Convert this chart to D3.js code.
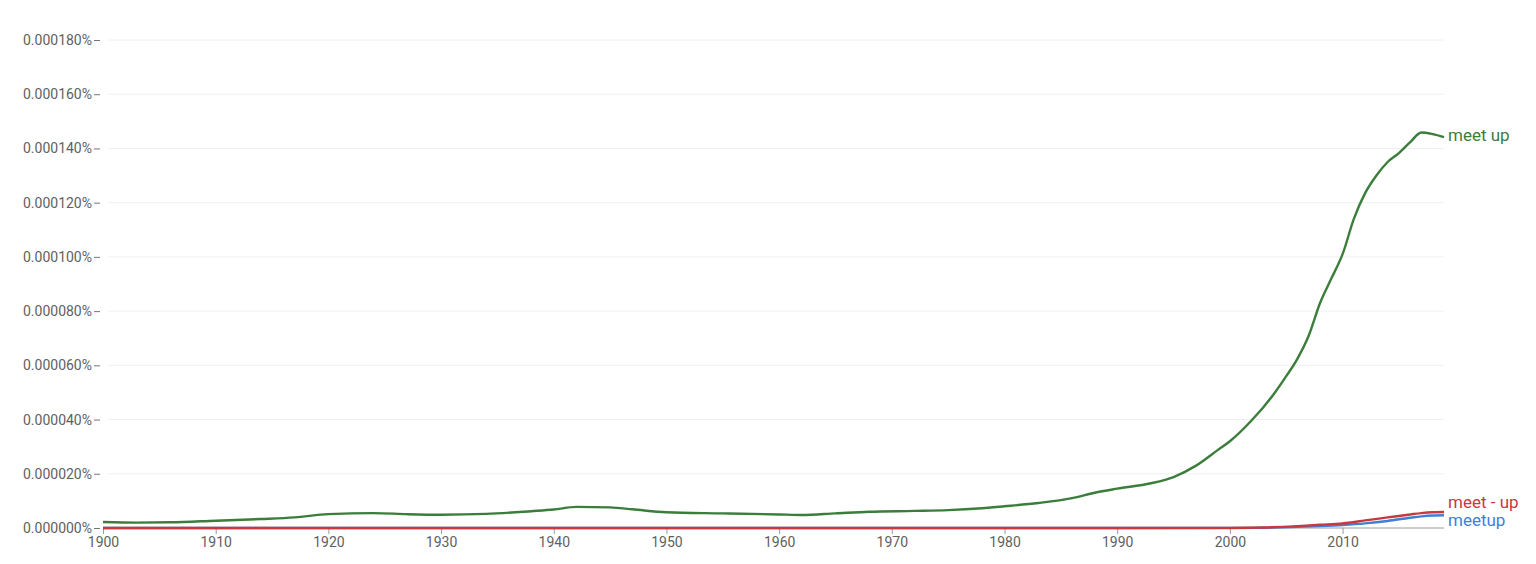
<!DOCTYPE html>
<html>
<head>
<meta charset="utf-8">
<script src="https://cdn.jsdelivr.net/npm/d3@7"></script>
<style>
  html, body { margin: 0; padding: 0; background: #fff; }
  svg { display: block; font-family: Roboto, "Noto Sans", sans-serif; }
</style>
</head>
<body>
<svg id="chart" width="1536" height="564"></svg>
<script>
// ---- data (values in percent) ----
const yearsMeetUp = [1900,1903,1906,1910,1914,1917,1920,1924,1927,1930,1934,1938,1940,1942,1945,1947,1950,1955,1960,1962,1965,1968,1972,1975,1978,1980,1983,1986,1988,1990,1993,1995,1997,1999,2000,2002,2004,2005,2006,2007,2008,2009,2010,2011,2012,2013,2014,2015,2016,2017,2018,2019];
const valuesMeetUp = [2.2e-6,2.0e-6,2.1e-6,2.7e-6,3.3e-6,3.9e-6,5.1e-6,5.5e-6,5.1e-6,4.9e-6,5.2e-6,6.2e-6,6.8e-6,7.8e-6,7.6e-6,6.9e-6,5.8e-6,5.4e-6,5.0e-6,4.8e-6,5.4e-6,6.0e-6,6.3e-6,6.6e-6,7.3e-6,8.0e-6,9.2e-6,11.0e-6,13.0e-6,14.5e-6,16.5e-6,18.8e-6,23.0e-6,29.0e-6,32.0e-6,40.0e-6,50.0e-6,56.0e-6,62.5e-6,71.0e-6,83.0e-6,92.0e-6,101e-6,114e-6,123.5e-6,130e-6,135e-6,138.3e-6,142.3e-6,145.9e-6,145.3e-6,144.2e-6];

const yearsMeetDashUp = [1900,1950,1990,2000,2003,2006,2008,2010,2012,2014,2016,2017,2018,2019];
const valuesMeetDashUp = [0,0,0.02e-6,0.05e-6,0.2e-6,0.7e-6,1.2e-6,1.7e-6,2.8e-6,3.9e-6,5.0e-6,5.5e-6,5.8e-6,5.9e-6];

const yearsMeetup = [1900,1950,1990,2000,2003,2006,2008,2010,2012,2014,2016,2017,2018,2019];
const valuesMeetup = [0,0,0,0.02e-6,0.1e-6,0.4e-6,0.7e-6,1.1e-6,1.7e-6,2.6e-6,3.8e-6,4.3e-6,4.6e-6,4.7e-6];

const seriesNames = ["meet up", "meet - up", "meetup"];
const seriesColors = ["#3b7d3b", "#c8383f", "#427ed6"];

const yTicks = [0, 0.00002, 0.00004, 0.00006, 0.00008, 0.0001, 0.00012, 0.00014, 0.00016, 0.00018];
const yTickLabels = ["0.000000%","0.000020%","0.000040%","0.000060%","0.000080%","0.000100%","0.000120%","0.000140%","0.000160%","0.000180%"];
const xTicks = [1900,1910,1920,1930,1940,1950,1960,1970,1980,1990,2000,2010];

// ---- layout ----
const svg = d3.select("#chart");
const x = d3.scaleLinear().domain([1900, 2019]).range([103, 1444]);
const y = d3.scaleLinear().domain([0, 0.00018]).range([528, 40]);

// grid lines
svg.append("g")
  .selectAll("line")
  .data(yTicks.slice(1))
  .join("line")
  .attr("x1", 108).attr("x2", 1444)
  .attr("y1", d => y(d)).attr("y2", d => y(d))
  .attr("stroke", "#f0f0f0").attr("stroke-width", 1);

// y axis
const yAxis = d3.axisLeft(y)
  .tickValues(yTicks)
  .tickFormat((d, i) => yTickLabels[i])
  .tickSize(6)
  .tickPadding(4);
const gy = svg.append("g").attr("transform", "translate(103,0)").call(yAxis);
gy.select(".domain").remove();
gy.selectAll(".tick line").attr("stroke", "#777").attr("transform", "translate(-3,0)");
gy.selectAll(".tick text").attr("fill", "#5f5f5f").style("font-size", "14px")
  .attr("x", -11).style("font-family", "Roboto, sans-serif");

// x axis
const xAxis = d3.axisBottom(x)
  .tickValues(xTicks)
  .tickFormat(d3.format("d"))
  .tickSize(6)
  .tickPadding(3);
const gx = svg.append("g").attr("transform", "translate(0,528)").call(xAxis);
gx.select(".domain").attr("stroke", "#9a9a9a").attr("d", "M103,0H1444");
gx.selectAll(".tick line").attr("stroke", "#9a9a9a");
gx.selectAll(".tick text").attr("fill", "#5f5f5f").style("font-size", "14px")
  .style("font-family", "Roboto, sans-serif");

// lines
const line = d3.line()
  .x(d => x(d[0]))
  .y(d => y(d[1]))
  .curve(d3.curveMonotoneX);

const datasets = [
  d3.zip(yearsMeetUp, valuesMeetUp),
  d3.zip(yearsMeetDashUp, valuesMeetDashUp),
  d3.zip(yearsMeetup, valuesMeetup)
];

// draw order: blue, then green, red on top at bottom
[2, 0, 1].forEach(i => {
  svg.append("path")
    .datum(datasets[i])
    .attr("fill", "none")
    .attr("stroke", seriesColors[i])
    .attr("stroke-width", 2.4)
    .attr("stroke-linejoin", "round")
    .attr("d", line);
});

// end labels
const labelY = [y(valuesMeetUp[valuesMeetUp.length - 1]) - 2, 502, 520];
seriesNames.forEach((name, i) => {
  svg.append("text")
    .attr("x", 1448)
    .attr("y", labelY[i])
    .attr("dy", "0.35em")
    .attr("fill", seriesColors[i])
    .style("font-size", "17px")
    .text(name);
});
</script>
</body>
</html>
